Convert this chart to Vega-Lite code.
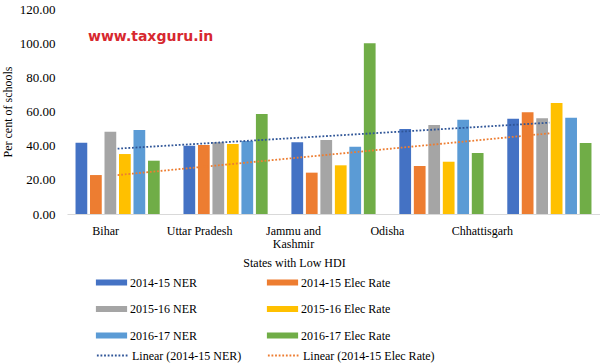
{
  "$schema": "https://vega.github.io/schema/vega-lite/v6.json",
  "autosize": {"type": "none"},
  "width": 533,
  "height": 205,
  "padding": {"left": 67, "top": 9, "right": 0, "bottom": 149},
  "background": "white",
  "config": {
    "view": {"stroke": null},
    "axis": {"labelFont": "Liberation Serif", "titleFont": "Liberation Serif", "labelColor": "#000000", "titleColor": "#000000"},
    "legend": {"labelFont": "Liberation Serif"}
  },
  "title": {
    "text": "www.taxguru.in",
    "anchor": "start",
    "frame": "group",
    "orient": "top",
    "font": "DejaVu Sans",
    "fontSize": 14,
    "fontWeight": "bold",
    "color": "#D7282F",
    "dx": 21,
    "dy": 51,
    "offset": 10
  },
  "datasets": {
    "ner": [
      {"state": "Bihar", "series": "2014-15 NER", "value": 41.7},
      {"state": "Bihar", "series": "2015-16 NER", "value": 48.2},
      {"state": "Bihar", "series": "2016-17 NER", "value": 49.2},
      {"state": "Uttar Pradesh", "series": "2014-15 NER", "value": 40.0},
      {"state": "Uttar Pradesh", "series": "2015-16 NER", "value": 42.0},
      {"state": "Uttar Pradesh", "series": "2016-17 NER", "value": 42.7},
      {"state": "Jammu and Kashmir", "series": "2014-15 NER", "value": 42.0},
      {"state": "Jammu and Kashmir", "series": "2015-16 NER", "value": 43.3},
      {"state": "Jammu and Kashmir", "series": "2016-17 NER", "value": 39.4},
      {"state": "Odisha", "series": "2014-15 NER", "value": 49.8},
      {"state": "Odisha", "series": "2015-16 NER", "value": 52.1},
      {"state": "Odisha", "series": "2016-17 NER", "value": 55.2},
      {"state": "Chhattisgarh", "series": "2014-15 NER", "value": 55.8},
      {"state": "Chhattisgarh", "series": "2015-16 NER", "value": 56.0},
      {"state": "Chhattisgarh", "series": "2016-17 NER", "value": 56.4}
    ],
    "elec": [
      {"state": "Bihar", "series": "2014-15 Elec Rate", "value": 22.8},
      {"state": "Bihar", "series": "2015-16 Elec Rate", "value": 35.1},
      {"state": "Bihar", "series": "2016-17 Elec Rate", "value": 31.2},
      {"state": "Uttar Pradesh", "series": "2014-15 Elec Rate", "value": 40.4},
      {"state": "Uttar Pradesh", "series": "2015-16 Elec Rate", "value": 41.0},
      {"state": "Uttar Pradesh", "series": "2016-17 Elec Rate", "value": 58.5},
      {"state": "Jammu and Kashmir", "series": "2014-15 Elec Rate", "value": 24.2},
      {"state": "Jammu and Kashmir", "series": "2015-16 Elec Rate", "value": 28.5},
      {"state": "Jammu and Kashmir", "series": "2016-17 Elec Rate", "value": 100.0},
      {"state": "Odisha", "series": "2014-15 Elec Rate", "value": 28.1},
      {"state": "Odisha", "series": "2015-16 Elec Rate", "value": 30.6},
      {"state": "Odisha", "series": "2016-17 Elec Rate", "value": 35.7},
      {"state": "Chhattisgarh", "series": "2014-15 Elec Rate", "value": 59.5},
      {"state": "Chhattisgarh", "series": "2015-16 Elec Rate", "value": 65.0},
      {"state": "Chhattisgarh", "series": "2016-17 Elec Rate", "value": 41.6}
    ],
    "trendNer": [
      {"state": "Bihar", "series": "Linear (2014-15 NER)", "value": 38.26},
      {"state": "Uttar Pradesh", "series": "Linear (2014-15 NER)", "value": 42.06},
      {"state": "Jammu and Kashmir", "series": "Linear (2014-15 NER)", "value": 45.86},
      {"state": "Odisha", "series": "Linear (2014-15 NER)", "value": 49.66},
      {"state": "Chhattisgarh", "series": "Linear (2014-15 NER)", "value": 53.46}
    ],
    "trendElec": [
      {"state": "Bihar", "series": "Linear (2014-15 Elec Rate)", "value": 22.78},
      {"state": "Uttar Pradesh", "series": "Linear (2014-15 Elec Rate)", "value": 28.89},
      {"state": "Jammu and Kashmir", "series": "Linear (2014-15 Elec Rate)", "value": 35.0},
      {"state": "Odisha", "series": "Linear (2014-15 Elec Rate)", "value": 41.11},
      {"state": "Chhattisgarh", "series": "Linear (2014-15 Elec Rate)", "value": 47.22}
    ]
  },
  "encoding": {
    "x": {
      "field": "state", "type": "nominal",
      "scale": {"domain": ["Bihar", "Uttar Pradesh", "Jammu and Kashmir", "Odisha", "Chhattisgarh"], "paddingInner": 0.22, "paddingOuter": 0.079},
      "axis": {
        "ticks": false, "domain": true, "domainColor": "#D9D9D9", "domainWidth": 1,
        "labelAngle": 0,
        "labelFont": "Liberation Serif", "labelFontSize": 12, "labelColor": "#000000",
        "labelPadding": 11, "labelLineHeight": 13,
        "labelExpr": "datum.value == 'Jammu and Kashmir' ? ['Jammu and', 'Kashmir'] : datum.label",
        "labelOffset": {
          "condition": [
            {"test": "datum.value == 'Bihar'", "value": -12},
            {"test": "datum.value == 'Uttar Pradesh'", "value": -26},
            {"test": "datum.value == 'Jammu and Kashmir'", "value": -40},
            {"test": "datum.value == 'Odisha'", "value": -54}
          ],
          "value": -67
        },
        "title": "States with Low HDI",
        "titleX": 227,
        "titleFont": "Liberation Serif", "titleFontSize": 12, "titleFontWeight": "normal", "titleColor": "#000000", "titlePadding": 8
      }
    },
    "y": {
      "field": "value", "type": "quantitative",
      "scale": {"domain": [0, 120], "nice": false},
      "axis": {
        "values": [0, 20, 40, 60, 80, 100, 120],
        "labelOverlap": false,
        "format": ".2f",
        "grid": false, "domain": false, "ticks": false,
        "labelFont": "Liberation Serif", "labelFontSize": 13, "labelColor": "#000000", "labelPadding": 12,
        "title": "Per cent of schools",
        "titleFont": "Liberation Serif", "titleFontSize": 12, "titleFontWeight": "normal", "titleColor": "#000000", "titlePadding": 5
      }
    }
  },
  "layer": [
    {
      "data": {"name": "ner"},
      "mark": {"type": "bar"},
      "encoding": {
        "xOffset": {"field": "series", "type": "nominal", "scale": {"domain": ["2014-15 NER", "2014-15 Elec Rate", "2015-16 NER", "2015-16 Elec Rate", "2016-17 NER", "2016-17 Elec Rate"], "paddingInner": 0.19, "paddingOuter": 0}},
        "color": {
          "field": "series", "type": "nominal",
          "scale": {"domain": ["2014-15 NER", "2015-16 NER", "2016-17 NER"], "range": ["#4472C4", "#A5A5A5", "#5B9BD5"]},
          "legend": {
            "orient": "none", "legendX": 38, "legendY": 267, "title": null,
            "symbolType": "M-2.4,-0.46H2.4V0.46H-2.4Z", "symbolSize": 169, "symbolStrokeWidth": 0,
            "labelFont": "Liberation Serif", "labelFontSize": 12, "labelColor": "#000000",
            "rowPadding": 13.5, "labelOffset": 12, "padding": 0
          }
        }
      }
    },
    {
      "data": {"name": "elec"},
      "mark": {"type": "bar"},
      "encoding": {
        "xOffset": {"field": "series", "type": "nominal", "scale": {"domain": ["2014-15 NER", "2014-15 Elec Rate", "2015-16 NER", "2015-16 Elec Rate", "2016-17 NER", "2016-17 Elec Rate"], "paddingInner": 0.19, "paddingOuter": 0}},
        "color": {
          "field": "series", "type": "nominal",
          "scale": {"domain": ["2014-15 Elec Rate", "2015-16 Elec Rate", "2016-17 Elec Rate"], "range": ["#ED7D31", "#FFC000", "#70AD47"]},
          "legend": {
            "orient": "none", "legendX": 209, "legendY": 267, "title": null,
            "symbolType": "M-2.4,-0.46H2.4V0.46H-2.4Z", "symbolSize": 169, "symbolStrokeWidth": 0,
            "labelFont": "Liberation Serif", "labelFontSize": 12, "labelColor": "#000000",
            "rowPadding": 13.5, "labelOffset": 12, "padding": 0
          }
        }
      }
    },
    {
      "data": {"name": "trendNer"},
      "mark": {"type": "line", "strokeWidth": 1.8, "strokeDash": [1.8, 1.8]},
      "encoding": {
        "color": {
          "field": "series", "type": "nominal",
          "scale": {"domain": ["Linear (2014-15 NER)"], "range": ["#2F5597"]},
          "legend": {
            "orient": "none", "legendX": 38, "legendY": 339, "title": null,
            "symbolType": "M-2.4,0H2.4", "symbolSize": 169, "symbolStrokeWidth": 1.8, "symbolDash": [1.8, 1.8],
            "labelFont": "Liberation Serif", "labelFontSize": 12, "labelColor": "#000000",
            "labelOffset": 12, "padding": 0
          }
        }
      }
    },
    {
      "data": {"name": "trendElec"},
      "mark": {"type": "line", "strokeWidth": 1.8, "strokeDash": [1.8, 1.8]},
      "encoding": {
        "color": {
          "field": "series", "type": "nominal",
          "scale": {"domain": ["Linear (2014-15 Elec Rate)"], "range": ["#ED7D31"]},
          "legend": {
            "orient": "none", "legendX": 209, "legendY": 339, "title": null,
            "symbolType": "M-2.4,0H2.4", "symbolSize": 169, "symbolStrokeWidth": 1.8, "symbolDash": [1.8, 1.8],
            "labelFont": "Liberation Serif", "labelFontSize": 12, "labelColor": "#000000",
            "labelOffset": 12, "padding": 0
          }
        }
      }
    }
  ],
  "resolve": {"scale": {"color": "independent"}}
}
